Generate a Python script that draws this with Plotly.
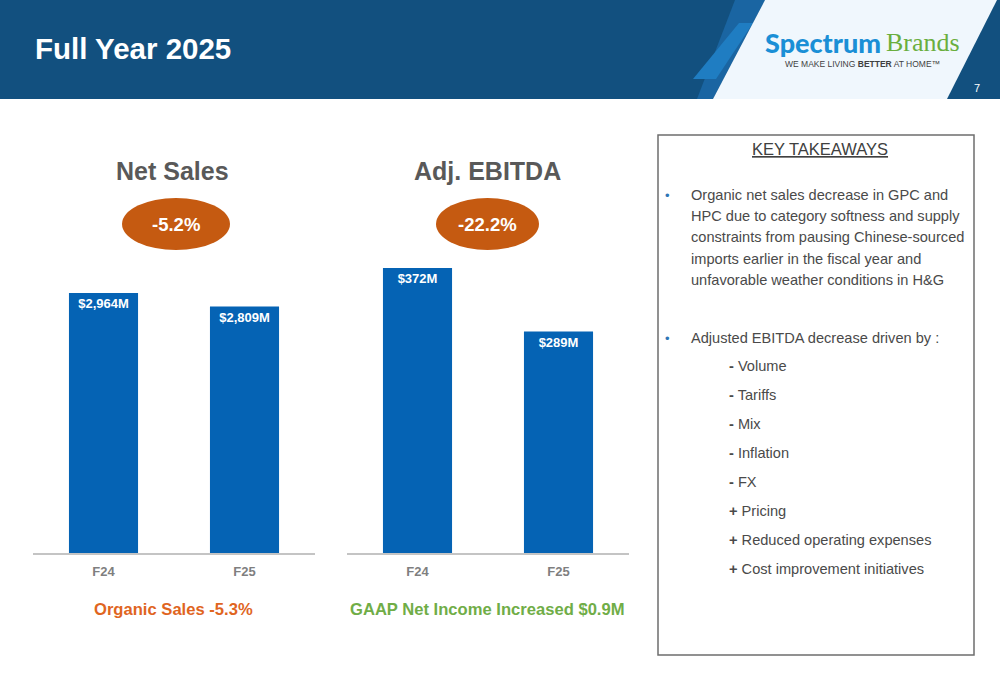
import plotly.graph_objects as go

W, H = 1000, 685

# ---- data ----
categories = ["F24", "F25"]
net_sales = [2964, 2809]          # $M
adj_ebitda = [372, 289]           # $M
net_sales_change = "-5.2%"
ebitda_change = "-22.2%"
organic_note = "Organic Sales -5.3%"
gaap_note = "GAAP Net Income Increased $0.9M"
bullet1_lines = [
    "Organic net sales decrease in GPC and",
    "HPC due to category softness and supply",
    "constraints from pausing Chinese-sourced",
    "imports earlier in the fiscal year and",
    "unfavorable weather conditions in H&G",
]
bullet2 = "Adjusted EBITDA decrease driven by :"
drivers_sign = ["-", "-", "-", "-", "-", "+", "+", "+"]
drivers = ["Volume", "Tariffs", "Mix", "Inflation", "FX", "Pricing",
           "Reduced operating expenses", "Cost improvement initiatives"]

NARROW = "Liberation Sans Narrow, Arial Narrow, Liberation Sans, Arial, sans-serif"
SANS = "Liberation Sans, Arial, sans-serif"
BAR = "#0563B4"
ORANGE = "#C55A11"
GRAY_TXT = "#4A4A4A"


def px(x):
    return x / W


def py(y):
    return 1 - y / H


fig = go.Figure()

for vals, xa, ya in [(net_sales, "x", "y"), (adj_ebitda, "x2", "y2")]:
    fig.add_trace(go.Bar(
        x=categories, y=vals, marker=dict(color=BAR, line=dict(width=0)),
        texttemplate="$%{y:,}M", textposition="inside", insidetextanchor="end",
        constraintext="none",
        insidetextfont=dict(family=NARROW, size=13, color="white", weight="bold"),
        xaxis=xa, yaxis=ya, showlegend=False, hoverinfo="skip"))

y_dom = [py(553), py(140)]
axis_common = dict(showgrid=False, zeroline=False, showline=True, linecolor="#C4C4C4",
                   linewidth=2, ticks="", ticklabelstandoff=5,
                   tickfont=dict(family=NARROW, size=13, color="#7F7F7F", weight="bold"),
                   fixedrange=True)
yaxis_common = dict(visible=False, showgrid=False, zeroline=False, fixedrange=True)

fig.update_layout(
    width=W, height=H, autosize=False,
    margin=dict(l=0, r=0, t=0, b=0),
    paper_bgcolor="white", plot_bgcolor="rgba(0,0,0,0)",
    bargap=0.51,
    xaxis=dict(domain=[px(33), px(315)], anchor="y", **axis_common),
    yaxis=dict(domain=y_dom, range=[0, 413 * 2964 / 260], anchor="x", **yaxis_common),
    xaxis2=dict(domain=[px(347), px(629)], anchor="y2", **axis_common),
    yaxis2=dict(domain=y_dom, range=[0, 413 * 372 / 285], anchor="x2", **yaxis_common),
)


def path(points):
    return "M " + " L ".join(f"{px(x):.5f},{py(y):.5f}" for x, y in points) + " Z"


shapes = [
    dict(type="rect", xref="paper", yref="paper", x0=0, x1=1, y0=py(99), y1=1,
         fillcolor="#12507F", line=dict(width=0), layer="below"),
    dict(type="path", xref="paper", yref="paper",
         path=path([(735, 0), (765, 0), (713, 99), (697, 99)]),
         fillcolor="#1A65A2", line=dict(width=0), layer="below"),
    dict(type="path", xref="paper", yref="paper",
         path=path([(739, 23), (753, 23), (716, 79), (693, 79)]),
         fillcolor="#1F7DC2", line=dict(width=0), layer="below"),
    dict(type="path", xref="paper", yref="paper",
         path=path([(765, 0), (997, 0), (947, 99), (713, 99)]),
         fillcolor="#F0F7FD", line=dict(width=0), layer="below"),
    # ellipses
    dict(type="circle", xref="paper", yref="paper", x0=px(122), x1=px(230),
         y0=py(250), y1=py(198), fillcolor=ORANGE, line=dict(width=0)),
    dict(type="circle", xref="paper", yref="paper", x0=px(436), x1=px(539),
         y0=py(250), y1=py(198), fillcolor=ORANGE, line=dict(width=0)),
    # takeaways box
    dict(type="rect", xref="paper", yref="paper", x0=px(658), x1=px(974),
         y0=py(655), y1=py(135), fillcolor="rgba(0,0,0,0)",
         line=dict(color="#6E6E6E", width=1.5)),
]
fig.update_layout(shapes=shapes)

ann = []


def text(x, y, s, size, color, family=NARROW, xanchor="center", bold=False, weight=None):
    w = weight if weight is not None else ("bold" if bold else "normal")
    ann.append(dict(x=px(x), y=py(y), xref="paper", yref="paper", text=s,
                    showarrow=False, xanchor=xanchor, yanchor="middle",
                    font=dict(family=family, size=size, color=color, weight=w)))


# header
text(33, 48, "Full Year 2025", 29.5, "white", xanchor="left", bold=True)
text(977, 88, "7", 11, "white", family=SANS)
text(763, 42, "Spectrum", 27, "#1A8FD6", family="Lato, Inter, sans-serif", xanchor="left", weight=900)
text(884, 42, "Brands", 26, "#6AAE3E", family="Liberation Serif, DejaVu Serif, serif", xanchor="left")
text(862, 64, "WE MAKE LIVING <b>BETTER</b> AT HOME™", 8.5, "#3F3F3F", family=SANS)

# chart titles & badges
text(172, 171, "Net Sales", 25, "#595959", family=SANS, bold=True)
text(487, 171, "Adj. EBITDA", 25, "#595959", family=SANS, bold=True)
text(176, 224, net_sales_change, 18.5, "white", bold=True)
text(487.5, 224, ebitda_change, 18.5, "white", bold=True)
text(173, 609, organic_note, 16.6, "#E0651F", bold=True)
text(487, 609, gaap_note, 16.6, "#70AD47", bold=True)

# key takeaways
text(820, 149, "<u>KEY TAKEAWAYS</u>", 16.5, "#404040")
text(667, 195, "•", 13, "#2E75B6", family=SANS)
for i, line in enumerate(bullet1_lines):
    text(689, 195 + i * 21.2, line, 14.6, GRAY_TXT, xanchor="left")
text(667, 338, "•", 13, "#2E75B6", family=SANS)
text(689, 338, bullet2, 14.6, GRAY_TXT, xanchor="left")
for i, (sg, d) in enumerate(zip(drivers_sign, drivers)):
    text(727, 366 + i * 29, f"<b>{sg}</b> {d}", 14.6, GRAY_TXT, xanchor="left")

fig.update_layout(annotations=ann)

fig.write_html("out.html")
